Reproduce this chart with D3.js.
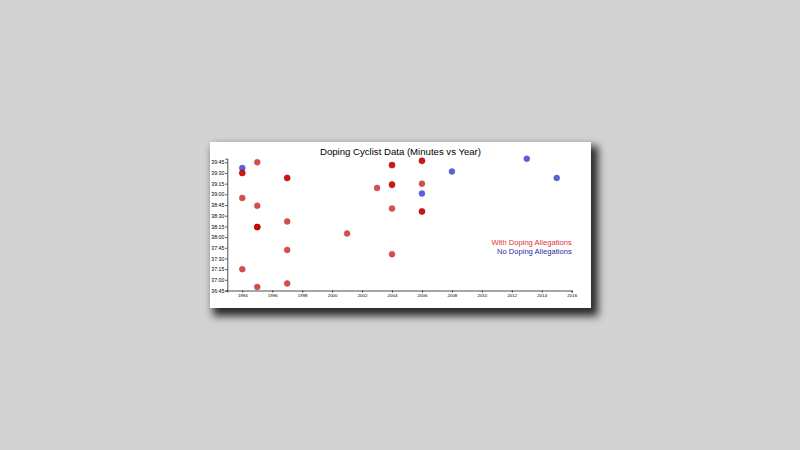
<!DOCTYPE html>
<html>
<head>
<meta charset="utf-8">
<script src="https://cdn.jsdelivr.net/npm/d3@7"></script>
<style>
  body { margin: 0; background: #d3d3d3; font-family: "Liberation Sans", Arial, sans-serif; }
  #card {
    position: absolute; left: 210px; top: 142px; width: 381px; height: 166px;
    background: #fff; box-shadow: 5px 6px 8px 2px rgba(0,0,0,0.8);
  }
  .axis text { font-family: "Liberation Sans", Arial, sans-serif; }
  .axis path, .axis line { stroke: #000; stroke-width: 0.7; }
</style>
</head>
<body>
<div id="card"><svg id="chart"></svg></div>
<script>
// years and finishing times (mm:ss)
const dopingYears = [1994, 1994, 1994, 1994, 1995, 1995, 1995, 1995, 1995, 1995,
  1997, 1997, 1997, 1997, 1997, 2001, 2003, 2004, 2004, 2004, 2004, 2004, 2004,
  2006, 2006, 2006, 2006, 2006];
const dopingTimes = ["39:30", "39:30", "38:55", "37:15", "39:45", "38:44", "38:14", "38:14", "38:14", "36:50",
  "39:23", "39:23", "38:22", "37:42", "36:55", "38:05", "39:09", "39:41", "39:41", "39:13", "39:14", "38:40", "37:36",
  "39:47", "39:47", "39:15", "38:36", "38:36"];
const cleanYears = [1994, 2006, 2008, 2013, 2015];
const cleanTimes = ["39:37", "39:01", "39:32", "39:50", "39:23"];

const yearTicks = [1994, 1996, 1998, 2000, 2002, 2004, 2006, 2008, 2010, 2012, 2014, 2016];
const timeTicks = ["36:45", "37:00", "37:15", "37:30", "37:45", "38:00", "38:15", "38:30",
  "38:45", "39:00", "39:15", "39:30", "39:45"];
const legendLabels = ["With Doping Allegations", "No Doping Allegations"];

const toSec = s => { const p = s.split(":"); return +p[0] * 60 + +p[1]; };
const fmt = sec => `${Math.floor(sec / 60)}:${String(sec % 60).padStart(2, "0")}`;

const data = [
  ...cleanYears.map((y, i) => ({ year: y, sec: toSec(cleanTimes[i]), doping: false })),
  ...dopingYears.map((y, i) => ({ year: y, sec: toSec(dopingTimes[i]), doping: true }))
];

const W = 381, H = 166;
const margin = { top: 16.7, right: 19.3, bottom: 17.5, left: 17.3 };
const width = W - margin.left - margin.right;
const height = H - margin.top - margin.bottom;

const svg = d3.select("#chart").attr("width", W).attr("height", H);
const chart = svg.append("g").attr("transform", `translate(${margin.left},${margin.top})`);

const xScale = d3.scaleLinear()
  .domain([d3.min(data, d => d.year) - 1, d3.max(data, d => d.year) + 1])
  .range([0, width]);
const yScale = d3.scaleLinear()
  .domain([d3.min(data, d => d.sec) - 5, d3.max(data, d => d.sec)])
  .range([height, 0]);

const xAxis = d3.axisBottom(xScale).tickValues(yearTicks).tickFormat(d3.format("d"))
  .tickSize(2).tickPadding(1.5);
const yAxis = d3.axisLeft(yScale).tickValues(timeTicks.map(toSec)).tickFormat(fmt)
  .tickSize(2).tickPadding(1);

chart.append("g").attr("class", "axis x-axis")
  .attr("transform", `translate(0,${height})`)
  .call(xAxis)
  .selectAll("text").style("font-size", "4.4px");
chart.append("g").attr("class", "axis y-axis")
  .call(yAxis)
  .selectAll("text").style("font-size", "5.2px");

chart.selectAll(".dot")
  .data(data)
  .enter()
  .append("circle")
  .attr("class", "dot")
  .attr("cx", d => xScale(d.year))
  .attr("cy", d => yScale(d.sec))
  .attr("r", 3)
  .attr("fill", d => d.doping ? "#cc0000" : "#1c1ccc")
  .attr("stroke", d => d.doping ? "#880000" : "#10108a")
  .attr("stroke-width", 0.4)
  .attr("opacity", 0.7);

svg.append("text")
  .attr("x", W / 2)
  .attr("y", 13)
  .attr("text-anchor", "middle")
  .style("font-size", "9.6px")
  .text("Doping Cyclist Data (Minutes vs Year)");

const legend = svg.append("g");
legend.selectAll("text")
  .data(legendLabels)
  .enter()
  .append("text")
  .attr("x", 361.7)
  .attr("y", (d, i) => 103 + i * 9.4)
  .attr("text-anchor", "end")
  .style("font-size", "7.6px")
  .attr("fill", (d, i) => i === 0 ? "#dd3333" : "#2a2aaa")
  .text(d => d);
</script>
</body>
</html>
